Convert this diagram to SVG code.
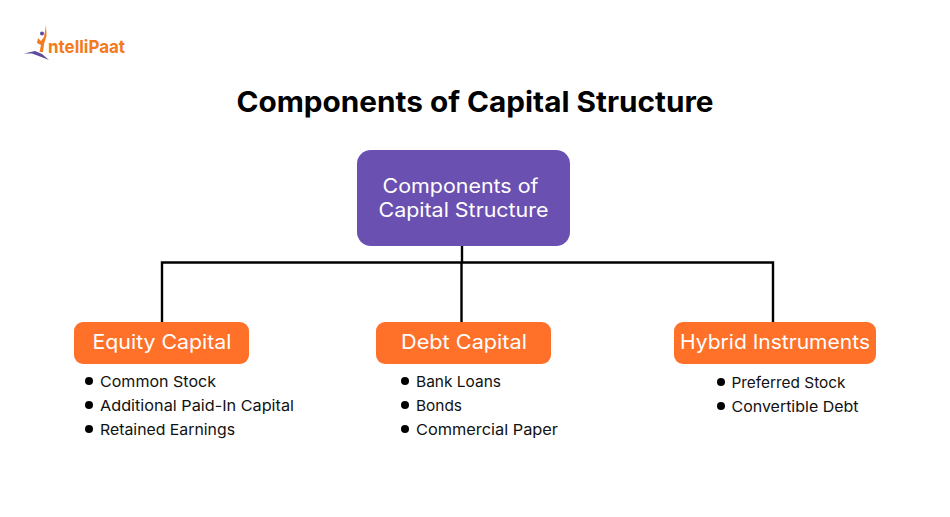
<svg xmlns="http://www.w3.org/2000/svg" width="950" height="517" viewBox="0 0 950 517">
<style>
text{font-family:"Inter","Noto Sans","Liberation Sans",sans-serif}
.title{font-size:28px;font-weight:700;fill:#000}
.h{font-size:20px;fill:#fff;text-anchor:middle}
.top{font-size:20px;fill:#fff;text-anchor:middle}
.li{font-size:15px;fill:#111}
.box{fill:#ff7029}
.conn{fill:none;stroke:#000;stroke-width:2.4}
.logo{font-size:18px;font-weight:700;fill:#f47a20}
</style>
<rect width="950" height="517" fill="#fff"/>
<g id="logo">
<path d="M24 53.500 L35 51 L42 54 L49 60 L40 56.500 L32 53.500 Z" fill="#5b4a9e"/>
<path d="M46 25 L46.500 36 L44 44 L43 52 L39.500 52 L41 45 L37 43 L38 38 L41 41 L44 37 Z" fill="#f47a20"/>
<circle cx="42" cy="33.500" r="2" fill="#5b4a9e"/>
<text class="logo" x="48" y="52.500" textLength="77" lengthAdjust="spacingAndGlyphs">ntelliPaat</text>
</g>
<text id="title" class="title" x="475" y="112" text-anchor="middle" textLength="477" lengthAdjust="spacingAndGlyphs">Components of Capital Structure</text>
<g id="connectors">
<path class="conn" d="M162 323V262.500H773V323"/>
<path class="conn" d="M462 245V262.500M461.500 262.500V323"/>
</g>
<g id="root">
<rect x="357" y="150" width="213" height="96" rx="14" fill="#6a50b0"/>
<text class="top" x="460.500" y="193" textLength="156" lengthAdjust="spacingAndGlyphs">Components of</text>
<text class="top" x="463.500" y="217" textLength="170" lengthAdjust="spacingAndGlyphs">Capital Structure</text>
</g>
<g id="equity">
<rect class="box" x="74" y="322" width="175" height="42" rx="9"/>
<text class="h" x="162" y="349" textLength="139" lengthAdjust="spacingAndGlyphs">Equity Capital</text>
</g>
<g id="debt">
<rect class="box" x="376" y="322" width="175" height="42" rx="9"/>
<text class="h" x="464" y="349" textLength="126" lengthAdjust="spacingAndGlyphs">Debt Capital</text>
</g>
<g id="hybrid">
<rect class="box" x="674" y="322" width="202" height="42" rx="9"/>
<text class="h" x="775" y="349" textLength="190" lengthAdjust="spacingAndGlyphs">Hybrid Instruments</text>
</g>
<g id="equity-list">
<circle cx="89" cy="381" r="4"/><text class="li" x="100" y="387" textLength="116" lengthAdjust="spacingAndGlyphs">Common Stock</text>
<circle cx="89" cy="405" r="4"/><text class="li" x="100" y="411" textLength="194" lengthAdjust="spacingAndGlyphs">Additional Paid-In Capital</text>
<circle cx="89" cy="429" r="4"/><text class="li" x="100" y="435" textLength="135" lengthAdjust="spacingAndGlyphs">Retained Earnings</text>
</g>
<g id="debt-list">
<circle cx="405" cy="381" r="4"/><text class="li" x="416" y="387" textLength="85" lengthAdjust="spacingAndGlyphs">Bank Loans</text>
<circle cx="405" cy="405" r="4"/><text class="li" x="416" y="411" textLength="46" lengthAdjust="spacingAndGlyphs">Bonds</text>
<circle cx="405" cy="429" r="4"/><text class="li" x="416" y="435" textLength="142" lengthAdjust="spacingAndGlyphs">Commercial Paper</text>
</g>
<g id="hybrid-list">
<circle cx="721" cy="382" r="4"/><text class="li" x="731.500" y="388" textLength="114" lengthAdjust="spacingAndGlyphs">Preferred Stock</text>
<circle cx="721" cy="406" r="4"/><text class="li" x="731.500" y="412" textLength="127" lengthAdjust="spacingAndGlyphs">Convertible Debt</text>
</g>
</svg>
